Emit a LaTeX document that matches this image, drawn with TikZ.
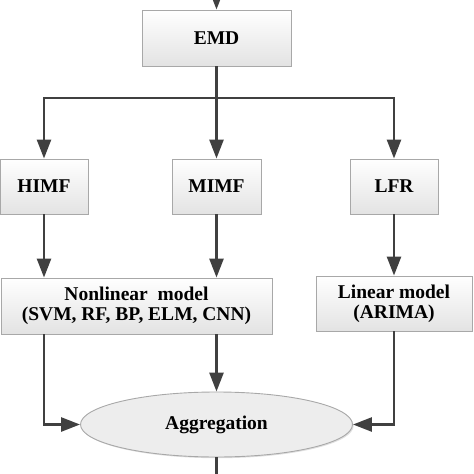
\documentclass[tikz,border=0pt]{standalone}
\usepackage{fontspec}
\setmainfont{Liberation Serif}
\usetikzlibrary{arrows.meta,shapes.geometric,shadows}
\definecolor{linec}{HTML}{404040}
\definecolor{bordc}{HTML}{A8A8A8}
\tikzset{
  boxn/.style={draw=bordc, line width=0.9pt, top color=white, bottom color=black!11,
    drop shadow={shadow xshift=1.2pt, shadow yshift=-1.2pt, opacity=0.25},
    font=\fontsize{19.5}{20}\selectfont\bfseries, align=center, inner sep=0pt},
  elln/.style={ellipse, draw=bordc, line width=0.9pt, fill=black!7,
    drop shadow={shadow xshift=1.2pt, shadow yshift=-1.2pt, opacity=0.25},
    font=\fontsize{19.5}{20}\selectfont\bfseries, inner sep=0pt},
  arr/.style={draw=linec, line width=2.6pt, -{Triangle[length=19pt,width=14pt]}},
  ln/.style={draw=linec, line width=2.6pt}
}
\begin{document}
\begin{tikzpicture}[x=1pt,y=-1pt]
\useasboundingbox (0,0) rectangle (474,474);
\node[boxn, minimum width=149pt, minimum height=56pt] (emd) at (216.5,38) {EMD};
\node[boxn, minimum width=88pt, minimum height=55pt] (himf) at (44,186.5) {HIMF};
\node[boxn, minimum width=89pt, minimum height=55pt] (mimf) at (216.5,186.5) {MIMF};
\node[boxn, minimum width=88pt, minimum height=55pt] (lfr) at (394,186.5) {LFR};
\node[boxn, minimum width=271pt, minimum height=56pt] (nl) at (136.5,306) {Nonlinear\ \ model\\(SVM, RF, BP, ELM, CNN)};
\node[boxn, minimum width=156pt, minimum height=55pt] (lin) at (394,303.5) {Linear model\\(ARIMA)};
\node[elln, minimum width=272pt, minimum height=65pt] (agg) at (216.5,424.5) {Aggregation};
\coordinate (in) at (216.5,-2);
\coordinate (j) at (216.5,98);
\coordinate (out) at (216.5,476);
\draw[arr] (in) -- (emd);
\draw[ln] (emd) -- (j);
\draw[arr] (j) -| (himf);
\draw[arr] (j) -- (mimf);
\draw[arr] (j) -| (lfr);
\draw[arr] (himf) -- (himf |- nl.north);
\draw[arr] (mimf) -- (mimf |- nl.north);
\draw[arr] (lfr) -- (lin);
\draw[arr] (himf |- nl.south) |- (agg.west);
\draw[arr] (mimf |- nl.south) -- (agg);
\draw[arr] (lin) |- (agg.east);
\draw[ln] (agg) -- (out);
\end{tikzpicture}
\end{document}
